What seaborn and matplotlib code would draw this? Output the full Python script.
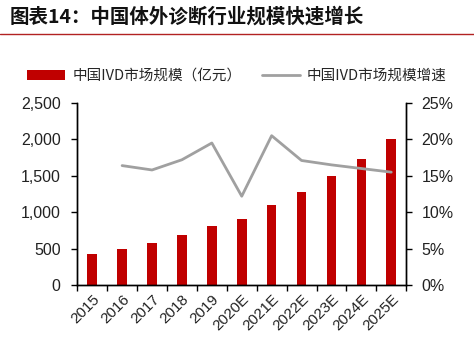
import numpy as np
import pandas as pd
import matplotlib
matplotlib.use("Agg")
import matplotlib.pyplot as plt
import seaborn as sns
from matplotlib.lines import Line2D
from matplotlib.patches import Patch
from matplotlib.ticker import FuncFormatter, MultipleLocator, FixedLocator

years = ["2015", "2016", "2017", "2018", "2019", "2020E", "2021E", "2022E", "2023E", "2024E", "2025E"]
market_size = [431, 500, 582, 682, 810, 912, 1099, 1283, 1493, 1731, 2001]
growth = [np.nan, 16.4, 15.8, 17.2, 19.5, 12.2, 20.5, 17.1, 16.5, 16.0, 15.5]

title = "图表14：中国体外诊断行业规模快速增长"
bar_label = "中国IVD市场规模（亿元）"
line_label = "中国IVD市场规模增速"

sns.set_theme(style="white")
plt.rcParams["font.family"] = ["Liberation Sans", "Noto Sans CJK SC", "DejaVu Sans"]

df = pd.DataFrame({"year": years, "size": market_size, "growth": growth,
                   "pos": np.arange(len(years))})

fig = plt.figure(figsize=(4.74, 3.61), dpi=100)
ax = fig.add_axes([0.163, 0.21, 0.694, 0.505])

sns.barplot(data=df, x="pos", y="size", color="#C00000", width=0.32,
            saturation=1, ax=ax, edgecolor="none")
ax.set_xlim(-0.5, len(years) - 0.5)
ax.set_ylim(0, 2500)
ax.yaxis.set_major_locator(MultipleLocator(500))
ax.yaxis.set_major_formatter(FuncFormatter(lambda v, p: f"{int(v):,}"))
ax.set_xticks(np.arange(len(years)))
ax.set_xticklabels(years, rotation=45, ha="right", rotation_mode="anchor", fontsize=11,
                   color="#222222")
ax.tick_params(axis="x", length=0, pad=5)
ax.xaxis.set_minor_locator(FixedLocator(np.arange(-0.5, len(years), 1.0)))
ax.tick_params(axis="x", which="minor", length=4, width=1, color="black", direction="out", bottom=True)
ax.tick_params(axis="y", length=4, width=1, color="black", direction="out", left=True,
               labelsize=11.5, labelcolor="#222222", pad=8)
ax.set_xlabel("")
ax.set_ylabel("")

ax2 = ax.twinx()
sns.lineplot(data=df, x="pos", y="growth", color="#A0A0A0", linewidth=2, ax=ax2)
ax2.set_ylim(0, 25)
ax2.yaxis.set_major_locator(MultipleLocator(5))
ax2.yaxis.set_major_formatter(FuncFormatter(lambda v, p: f"{int(round(v))}%"))
ax2.tick_params(axis="y", length=4, width=1, color="black", direction="out", right=True,
                labelsize=11.5, labelcolor="#222222", pad=7)
ax2.set_ylabel("")
ax2.set_xlabel("")
ax2.set_xlim(-0.5, len(years) - 0.5)

for a in (ax, ax2):
    a.spines["top"].set_visible(False)
    for s in ("left", "right", "bottom"):
        a.spines[s].set_color("black")
        a.spines[s].set_linewidth(1)
    a.grid(False)

handles = [Patch(facecolor="#C00000", edgecolor="none"),
           Line2D([0], [0], color="#A0A0A0", linewidth=2)]
fig.legend(handles, [bar_label, line_label], loc="center", bbox_to_anchor=(0.5, 0.79),
           ncol=2, frameon=False, prop={"family": ["Noto Sans CJK SC", "DejaVu Sans"], "size": 10.5},
           handlelength=2.6, handleheight=0.7, columnspacing=1.4, handletextpad=0.5)

fig.text(0.02, 0.955, title, fontsize=14, fontweight="bold",
         family=["Noto Sans CJK SC", "DejaVu Sans"], va="center", ha="left", color="#111111")
fig.add_artist(Line2D([0.0, 1.0], [0.905, 0.905], transform=fig.transFigure,
                      color="#B22222", linewidth=1))

fig.savefig("out.png", dpi=100, facecolor="white")
